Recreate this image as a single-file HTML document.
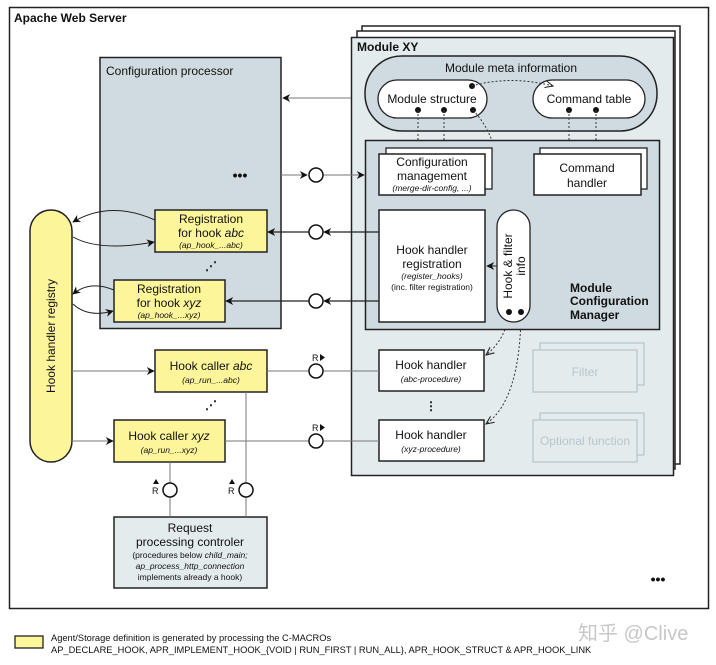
<!DOCTYPE html>
<html><head><meta charset="utf-8"><style>
html,body{margin:0;padding:0;background:#fff}
svg{display:block}
text{font-family:"Liberation Sans",Arial,sans-serif;fill:#111}
.i{font-style:italic}
</style></head><body>
<svg width="716" height="665" viewBox="0 0 716 665" xmlns="http://www.w3.org/2000/svg">
<defs>
<marker id="a" viewBox="0 0 10 10" refX="9" refY="5" markerWidth="8" markerHeight="8" orient="auto-start-reverse" markerUnits="userSpaceOnUse"><path d="M0,0 L10,5 L0,10 L3,5 Z" fill="#111"/></marker>
<marker id="o" viewBox="0 0 10 10" refX="9" refY="5" markerWidth="9" markerHeight="9" orient="auto" markerUnits="userSpaceOnUse"><path d="M0,1 L9,5 L0,9" fill="none" stroke="#222" stroke-width="1.2"/></marker>
</defs>
<rect x="9.5" y="7.5" width="699" height="601" fill="#fff" stroke="#222" stroke-width="1.5"/>
<text x="14" y="22" font-size="12" font-weight="bold">Apache Web Server</text>

<rect x="362" y="26" width="318" height="438" fill="#fff" stroke="#222" stroke-width="1.5"/>
<rect x="357" y="31" width="318" height="438" fill="#fff" stroke="#222" stroke-width="1.5"/>
<rect x="351.5" y="37.5" width="322" height="438" fill="#e4ebed" stroke="#222" stroke-width="1.5"/>
<text x="357" y="51" font-size="12" font-weight="bold">Module XY</text>

<rect x="365" y="56" width="292" height="75" rx="37" fill="#cfdbe0" stroke="#222" stroke-width="1.5"/>
<text x="511" y="72" font-size="12" text-anchor="middle">Module meta information</text>
<rect x="378" y="80" width="109" height="38" rx="19" fill="#fff" stroke="#222" stroke-width="1.3"/>
<text x="432" y="103" font-size="12" text-anchor="middle">Module structure</text>
<rect x="533" y="80" width="112" height="38" rx="19" fill="#fff" stroke="#222" stroke-width="1.3"/>
<text x="589" y="103" font-size="12" text-anchor="middle">Command table</text>
<g fill="#111"><circle cx="472" cy="86" r="3"/><circle cx="418" cy="110" r="3"/><circle cx="444" cy="110" r="3"/><circle cx="473" cy="110" r="3"/><circle cx="569" cy="110" r="3"/><circle cx="596" cy="110" r="3"/></g>
<g fill="none" stroke="#333" stroke-dasharray="2,2" stroke-width="1">
<path d="M472,86 Q510,75 553,86" marker-end="url(#o)"/>
<path d="M418,110 V153" marker-end="url(#o)"/>
<path d="M444,110 V150" marker-end="url(#o)"/>
<path d="M473,110 Q510,150 488,208" marker-end="url(#o)"/>
<path d="M569,110 V153" marker-end="url(#o)"/>
<path d="M596,110 V150" marker-end="url(#o)"/>
<path d="M509,314 Q505,340 486,355" marker-end="url(#o)"/>
<path d="M521,314 Q520,400 486,424" marker-end="url(#o)"/>
</g>

<rect x="365.5" y="140.5" width="294" height="189" fill="#cfdbe0" stroke="#222" stroke-width="1.5"/>
<rect x="386" y="148" width="106" height="41" fill="#fff" stroke="#222" stroke-width="1.3"/>
<rect x="379" y="154" width="106" height="41" fill="#fff" stroke="#222" stroke-width="1.5"/>
<text x="432" y="166" font-size="12" text-anchor="middle">Configuration</text>
<text x="432" y="180" font-size="12" text-anchor="middle">management</text>
<text x="432" y="191" font-size="8.5" text-anchor="middle" class="i">(merge-dir-config, ...)</text>
<rect x="540" y="148" width="107" height="41" fill="#fff" stroke="#222" stroke-width="1.3"/>
<rect x="534" y="154" width="107" height="41" fill="#fff" stroke="#222" stroke-width="1.5"/>
<text x="587" y="172" font-size="12" text-anchor="middle">Command</text>
<text x="587" y="187" font-size="12" text-anchor="middle">handler</text>
<rect x="379" y="210" width="106" height="112" fill="#fff" stroke="#222" stroke-width="1.5"/>
<text x="432" y="254" font-size="12" text-anchor="middle">Hook handler</text>
<text x="432" y="268" font-size="12" text-anchor="middle">registration</text>
<text x="432" y="279" font-size="8.5" text-anchor="middle" class="i">(register_hooks)</text>
<text x="432" y="290" font-size="8.5" text-anchor="middle">(inc. filter registration)</text>
<rect x="497" y="210" width="33" height="112" rx="16.5" fill="#fff" stroke="#222" stroke-width="1.3"/>
<text transform="translate(512,266) rotate(-90)" font-size="12" text-anchor="middle">Hook &amp; filter</text>
<text transform="translate(525,266) rotate(-90)" font-size="12" text-anchor="middle">info</text>
<circle cx="509" cy="312" r="3" fill="#111"/><circle cx="521" cy="312" r="3" fill="#111"/>
<line x1="497" y1="266" x2="487" y2="266" stroke="#222" marker-end="url(#a)"/>
<text x="570" y="292" font-size="12" font-weight="bold">Module</text>
<text x="570" y="305" font-size="12" font-weight="bold">Configuration</text>
<text x="570" y="319" font-size="12" font-weight="bold">Manager</text>

<rect x="379" y="350" width="105" height="41" fill="#fff" stroke="#222" stroke-width="1.5"/>
<text x="431" y="369" font-size="12" text-anchor="middle">Hook handler</text>
<text x="431" y="382" font-size="8.5" text-anchor="middle" class="i">(abc-procedure)</text>
<text x="431" y="410" font-size="12" text-anchor="middle" font-weight="bold">⋮</text>
<rect x="379" y="420" width="105" height="41" fill="#fff" stroke="#222" stroke-width="1.5"/>
<text x="431" y="439" font-size="12" text-anchor="middle">Hook handler</text>
<text x="431" y="452" font-size="8.5" text-anchor="middle" class="i">(xyz-procedure)</text>
<g stroke="#b8c6cc" stroke-width="1.3" fill="#e4ebed">
<rect x="540" y="343" width="104" height="42"/><rect x="533" y="350" width="104" height="42"/>
<rect x="540" y="413" width="104" height="42"/><rect x="533" y="420" width="104" height="42"/>
</g>
<text x="585" y="376" font-size="12" text-anchor="middle" style="fill:#b8c6cc">Filter</text>
<text x="585" y="445" font-size="12" text-anchor="middle" style="fill:#b8c6cc">Optional function</text>

<rect x="100" y="57.5" width="181" height="271" fill="#cfdbe0" stroke="#222" stroke-width="1.5"/>
<text x="106" y="75" font-size="12">Configuration processor</text>
<text x="240" y="180" font-size="14" text-anchor="middle" font-weight="bold">•••</text>
<rect x="155" y="210" width="112" height="42" fill="#fdf59a" stroke="#222" stroke-width="1.5"/>
<text x="211" y="223" font-size="12" text-anchor="middle">Registration</text>
<text x="211" y="237" font-size="12" text-anchor="middle">for hook <tspan class="i">abc</tspan></text>
<text x="211" y="248" font-size="8.5" text-anchor="middle" class="i">(ap_hook_...abc)</text>
<text x="211" y="270" font-size="12" text-anchor="middle" font-weight="bold">⋰</text>
<rect x="114" y="280" width="111" height="42" fill="#fdf59a" stroke="#222" stroke-width="1.5"/>
<text x="169" y="293" font-size="12" text-anchor="middle">Registration</text>
<text x="169" y="307" font-size="12" text-anchor="middle">for hook <tspan class="i">xyz</tspan></text>
<text x="169" y="318" font-size="8.5" text-anchor="middle" class="i">(ap_hook_...xyz)</text>

<rect x="30" y="210" width="42" height="252" rx="21" fill="#fdf59a" stroke="#222" stroke-width="1.5"/>
<text transform="translate(55,336) rotate(-90)" font-size="12" text-anchor="middle">Hook handler registry</text>
<g fill="none" stroke="#222" stroke-width="1">
<path d="M155,220 Q110,200 73,222" marker-end="url(#a)"/>
<path d="M73,237 Q100,252 154,242" marker-end="url(#a)"/>
<path d="M114,290 Q90,280 73,294" marker-end="url(#a)"/>
<path d="M73,304 Q88,318 113,311" marker-end="url(#a)"/>
</g>

<rect x="155" y="350" width="112" height="42" fill="#fdf59a" stroke="#222" stroke-width="1.5"/>
<text x="211" y="370" font-size="12" text-anchor="middle">Hook caller <tspan class="i">abc</tspan></text>
<text x="211" y="383" font-size="8.5" text-anchor="middle" class="i">(ap_run_...abc)</text>
<text x="211" y="409" font-size="12" text-anchor="middle" font-weight="bold">⋰</text>
<rect x="114" y="420" width="111" height="42" fill="#fdf59a" stroke="#222" stroke-width="1.5"/>
<text x="169" y="440" font-size="12" text-anchor="middle">Hook caller <tspan class="i">xyz</tspan></text>
<text x="169" y="453" font-size="8.5" text-anchor="middle" class="i">(ap_run_...xyz)</text>
<rect x="114" y="517" width="153" height="71" fill="#e4ebed" stroke="#222" stroke-width="1.5"/>
<text x="190" y="532" font-size="12" text-anchor="middle">Request</text>
<text x="190" y="546" font-size="12" text-anchor="middle">processing controler</text>
<text x="190" y="558" font-size="8.5" text-anchor="middle">(procedures below <tspan class="i">child_main;</tspan></text>
<text x="190" y="569" font-size="8.5" text-anchor="middle" class="i">ap_process_http_connection</text>
<text x="190" y="580" font-size="8.5" text-anchor="middle">implements already a hook)</text>

<g stroke="#777" stroke-width="1" fill="none">
<line x1="351" y1="98" x2="283" y2="98" marker-end="url(#a)"/>
<line x1="281" y1="175" x2="307" y2="175" marker-end="url(#a)"/>
<line x1="323" y1="175" x2="364" y2="175" marker-end="url(#a)"/>
<line x1="72" y1="371" x2="154" y2="371" marker-end="url(#a)"/>
<line x1="72" y1="441" x2="113" y2="441" marker-end="url(#a)"/>
<line x1="267" y1="371" x2="309" y2="371"/><line x1="323" y1="371" x2="379" y2="371"/>
<line x1="225" y1="441" x2="309" y2="441"/><line x1="323" y1="441" x2="379" y2="441"/>
<line x1="170" y1="462" x2="170" y2="483"/><line x1="170" y1="497" x2="170" y2="517"/>
<line x1="246" y1="392" x2="246" y2="483"/><line x1="246" y1="497" x2="246" y2="517"/>
</g>
<g stroke="#222" stroke-width="1.2" fill="none">
<line x1="379" y1="232" x2="324" y2="232" marker-end="url(#a)"/>
<line x1="309" y1="232" x2="268" y2="232" marker-end="url(#a)"/>
<line x1="379" y1="301" x2="324" y2="301" marker-end="url(#a)"/>
<line x1="309" y1="301" x2="226" y2="301" marker-end="url(#a)"/>
</g>
<g fill="#fff" stroke="#111" stroke-width="1.5">
<circle cx="316" cy="175" r="7"/><circle cx="316" cy="232" r="7"/><circle cx="316" cy="301" r="7"/>
<circle cx="316" cy="371" r="7"/><circle cx="316" cy="441" r="7"/>
<circle cx="170" cy="490" r="7"/><circle cx="246" cy="490" r="7"/>
</g>
<g font-size="9">
<text x="312" y="361">R</text><path d="M320,354 L325,357.5 L320,361Z" fill="#111"/>
<text x="312" y="431">R</text><path d="M320,424 L325,427.5 L320,431Z" fill="#111"/>
<text x="152" y="494">R</text><path d="M153,484 L156,479 L159,484Z" fill="#111"/>
<text x="228" y="494">R</text><path d="M229,484 L232,479 L235,484Z" fill="#111"/>
</g>
<text x="658" y="584" font-size="14" text-anchor="middle" font-weight="bold">•••</text>

<rect x="15" y="636" width="28" height="12" fill="#fdf59a" stroke="#222" stroke-width="1.3"/>
<text x="51" y="641" font-size="9.3">Agent/Storage definition is generated by processing the  C-MACROs</text>
<text x="51" y="653" font-size="9.3">AP_DECLARE_HOOK, APR_IMPLEMENT_HOOK_{VOID | RUN_FIRST | RUN_ALL}, APR_HOOK_STRUCT &amp; APR_HOOK_LINK</text>
<text x="578" y="640" font-size="20" style="fill:#c8c8c8" font-family="Noto Sans CJK SC">知乎 @Clive</text>
</svg>
</body></html>
